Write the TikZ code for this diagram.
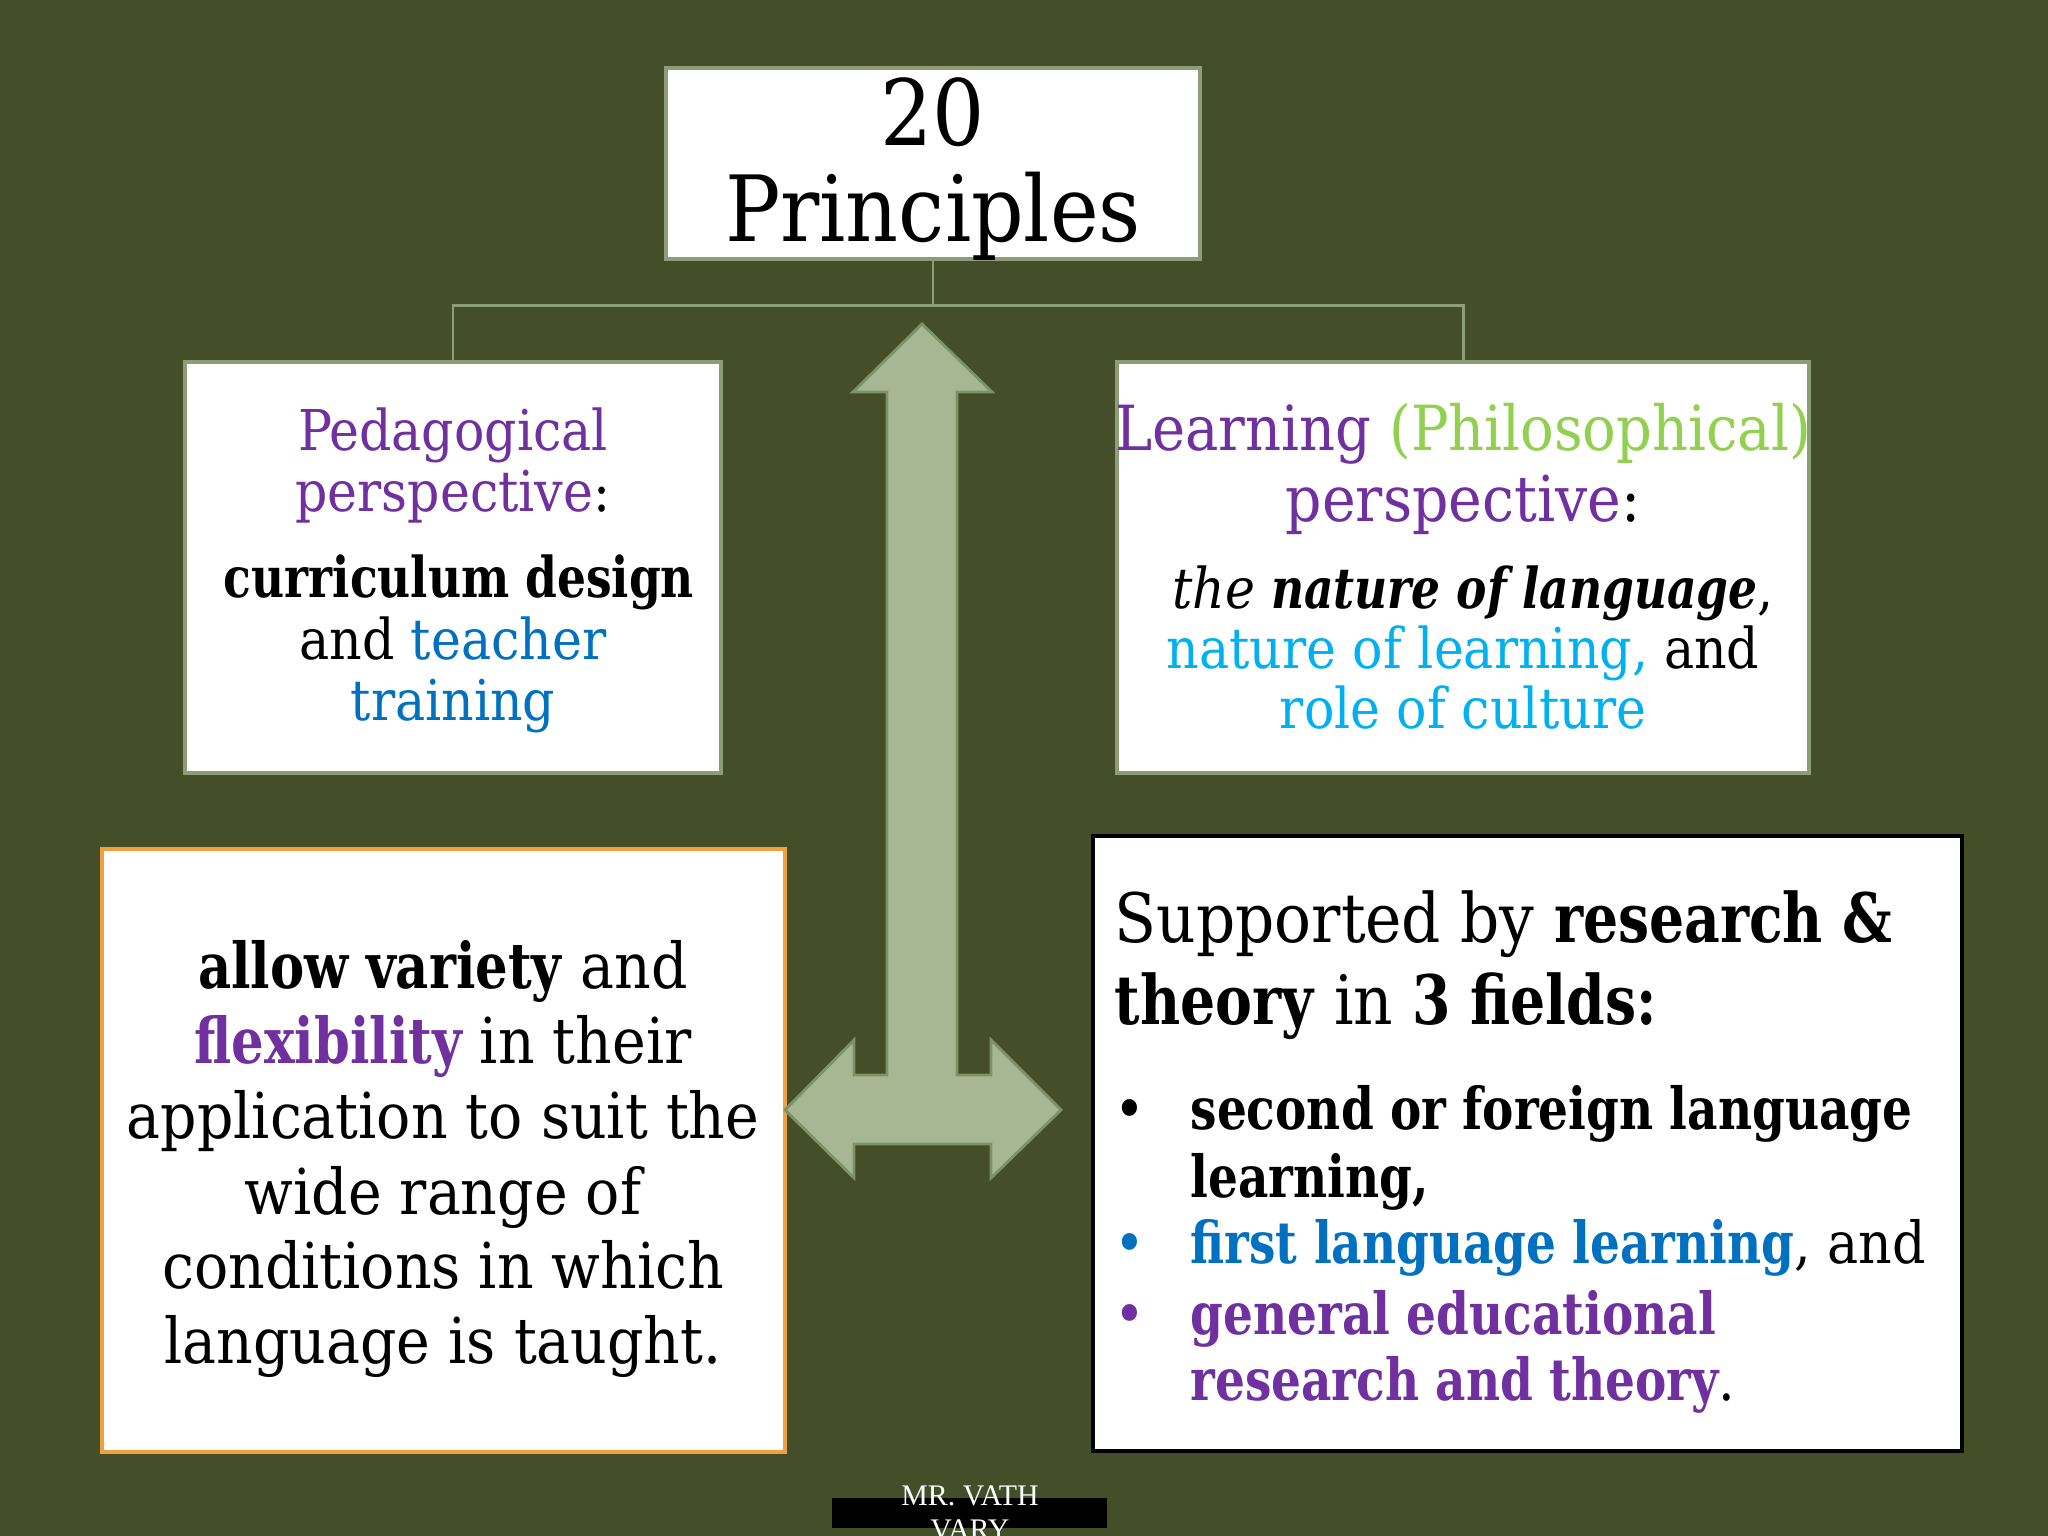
\documentclass[tikz,border=0pt]{standalone}
\usepackage{fontspec}
\setmainfont{DejaVu Serif Condensed}[BoldFeatures={FakeStretch=0.9}, BoldItalicFeatures={FakeStretch=0.9}]
\newfontfamily\footfont{Liberation Serif}
\usetikzlibrary{positioning}
\definecolor{slidebg}{HTML}{444E28}
\definecolor{framegreen}{HTML}{8E9D78}
\definecolor{arrowfill}{HTML}{A7B793}
\definecolor{arrowdraw}{HTML}{7F9168}
\definecolor{pedpurple}{HTML}{7030A0}
\definecolor{teachblue}{HTML}{0070C0}
\definecolor{lightblue}{HTML}{00B0F0}
\definecolor{philgreen}{HTML}{92D050}
\definecolor{boxorange}{HTML}{F0A040}
\tikzset{
  box/.style={draw=framegreen, line width=1.1pt, fill=white, inner sep=0pt},
  link/.style={draw=framegreen, line width=0.85pt},
  txt/.style={anchor=base, inner sep=0pt},
  ltxt/.style={anchor=base west, inner sep=0pt},
  titlefont/.style={font=\fontsize{26}{28}\selectfont},
  headfont/.style={font=\fontsize{18}{20}\selectfont},
  fieldfont/.style={font=\fontsize{19.4}{21}\selectfont},
  bodyfont/.style={font=\fontsize{18}{20}\selectfont},
  listfont/.style={font=\fontsize{16.5}{18}\selectfont},
  smallfont/.style={font=\fontsize{16}{18}\selectfont}
}
\begin{document}
\begin{tikzpicture}
    % Hintergrund
    \fill[slidebg] (0,0) rectangle (20.48,15.36);
    \useasboundingbox (0,0) rectangle (20.48,15.36);
    % Kaesten
    \node[box, minimum width=5.34cm, minimum height=1.91cm] (top) at (9.33,13.725) {};
    \node[box, minimum width=5.36cm, minimum height=4.11cm] (ped) at (4.53,9.685) {};
    \node[box, minimum width=6.92cm, minimum height=4.11cm] (phil) at (14.63,9.685) {};
    \node[box, draw=boxorange, minimum width=6.83cm, minimum height=6.03cm] (vary) at (4.435,3.855) {};
    \node[box, draw=black, minimum width=8.69cm, minimum height=6.15cm] (fields) at (15.275,3.925) {};
    % Verbindungen
    \draw[link] (top.south) -- ++(0,-0.45) -| (ped.north);
    \draw[link] (top.south) -- ++(0,-0.45) -| (phil.north);
    % Pfeil
    \draw[fill=arrowfill, draw=arrowdraw, line width=0.8pt]
    (9.22,12.12) -- (9.92,11.44) -- (9.57,11.44) -- (9.57,4.61)
    -- (9.91,4.61) -- (9.91,4.96) -- (10.61,4.26) -- (9.91,3.58)
    -- (9.91,3.92) -- (8.54,3.92) -- (8.54,3.58) -- (7.85,4.26)
    -- (8.54,4.96) -- (8.54,4.61) -- (8.87,4.61) -- (8.87,11.44)
    -- (8.53,11.44) -- cycle;
    % Titel
    \node[txt, titlefont] (t1) at (9.33,13.90) {20};
    \node[txt, titlefont] (t2) at (9.33,12.94) {Principles};
    % Pedagogical
    \node[txt, smallfont] (l1) at (4.53,10.85) {\color{pedpurple}Pedagogical};
    \node[txt, smallfont] (l2) at (4.53,10.24) {\textcolor{pedpurple}{perspective}:};
    \node[txt, smallfont] (l3) at (4.59,9.38) {\textbf{curriculum design}};
    \node[txt, smallfont] (l4) at (4.53,8.76) {and \textcolor{teachblue}{teacher}};
    \node[txt, smallfont] (l5) at (4.53,8.15) {\color{teachblue}training};
    % Learning
    \node[txt, headfont, font=\fontsize{17.7}{20}\selectfont] (r1) at (14.63,10.85) {\textcolor{pedpurple}{Learning} \textcolor{philgreen}{(Philosophical)}};
    \node[txt, headfont] (r2) at (14.63,10.14) {\textcolor{pedpurple}{perspective}:};
    \node[txt, smallfont] (r3) at (14.73,9.27) {\textit{the \textbf{nature of language}},};
    \node[txt, smallfont] (r4) at (14.63,8.67) {\textcolor{lightblue}{nature of learning,} and};
    \node[txt, smallfont] (r5) at (14.63,8.07) {\color{lightblue}role of culture};
    % Variety
    \node[txt, bodyfont] (v1) at (4.43,5.47) {\textbf{allow variety} and};
    \node[txt, bodyfont] (v2) at (4.43,4.72) {\textbf{\textcolor{pedpurple}{flexibility}} in their};
    \node[txt, bodyfont] (v3) at (4.43,3.97) {application to suit the};
    \node[txt, bodyfont] (v4) at (4.43,3.21) {wide range of};
    \node[txt, bodyfont] (v5) at (4.43,2.47) {conditions in which};
    \node[txt, bodyfont] (v6) at (4.43,1.72) {language is taught.};
    % Felder
    \node[ltxt, fieldfont] (h1) at (11.14,5.93) {Supported by \textbf{research \&}};
    \node[ltxt, fieldfont] (h2) at (11.14,5.11) {\textbf{theory} in \textbf{3 fields:}};
    \node[ltxt, listfont] (b1) at (11.14,4.06) {•};
    \node[ltxt, listfont] (b2) at (11.14,2.72) {\color{teachblue}•};
    \node[ltxt, listfont] (b3) at (11.14,2.01) {\color{pedpurple}•};
    \node[ltxt, listfont] (i1) at (11.90,4.06) {\textbf{second or foreign language}};
    \node[ltxt, listfont] (i2) at (11.90,3.38) {\textbf{learning,}};
    \node[ltxt, listfont] (i3) at (11.90,2.72) {\textbf{\textcolor{teachblue}{first language learning}}, and};
    \node[ltxt, listfont] (i4) at (11.90,2.01) {\textbf{\textcolor{pedpurple}{general educational}}};
    \node[ltxt, listfont] (i5) at (11.90,1.35) {\textbf{\textcolor{pedpurple}{research and theory}}.};
    % Fusszeile
    \begin{scope}
    \clip (0,0) rectangle (20.48,15.36);
    \fill[black] (8.32,0.08) rectangle (11.07,0.38);
    \node[txt, font=\footfont\fontsize{8.5}{9}\selectfont, text=white] (f1) at (9.70,0.30) {MR. VATH};
    \node[txt, font=\footfont\fontsize{8.5}{9}\selectfont, text=white] (f2) at (9.70,-0.04) {VARY};
    \end{scope}
\end{tikzpicture}
\end{document}
